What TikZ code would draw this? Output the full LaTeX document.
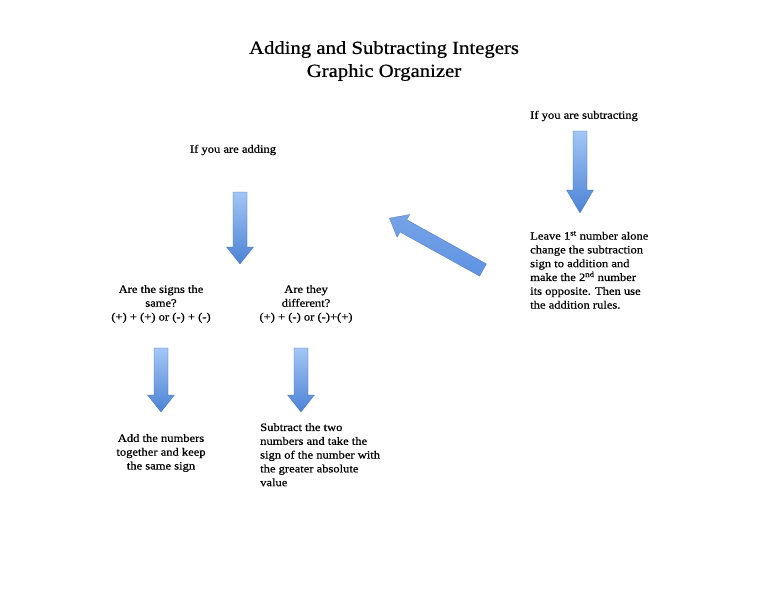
\documentclass[tikz,border=0pt]{standalone}
\usepackage{fontspec}
\setmainfont{Liberation Serif}[FakeStretch=1.12, FakeBold=0.6]
\usetikzlibrary{calc}
\definecolor{arrowlight}{HTML}{A3C6F5}
\definecolor{arrowdark}{HTML}{4C82D6}
\definecolor{arrowmid}{HTML}{5E93E2}
\tikzset{
  body/.style={font=\fontsize{11.2}{13.8}\selectfont, inner sep=0pt, align=center},
  bodyleft/.style={font=\fontsize{11.2}{13.8}\selectfont, inner sep=0pt, align=left, anchor=north west},
  titletext/.style={font=\fontsize{18.5}{23}\selectfont, inner sep=0pt, align=center},
  blockarrow/.style={top color=arrowlight, bottom color=arrowdark, draw=arrowdark!80!black, line width=0.2pt}
}
% #1 = centre x, #2 = top y, #3 = head base y, #4 = tip y
\newcommand\downblock[4]{%
  \path[blockarrow] (#1-7,#2) -- (#1+7,#2) -- (#1+7,#3) -- (#1+13.5,#3) -- (#1,#4)
    -- (#1-13.5,#3) -- (#1-7,#3) -- cycle;}
\begin{document}
\begin{tikzpicture}[x=1pt,y=-1pt]
\useasboundingbox[fill=white] (0,0) rectangle (768,594);

\node[titletext] (title) at (384,61) {Adding and Subtracting Integers\\Graphic Organizer};

\node[body] (adding) at (233,150) {If you are adding};
\node[body, anchor=west] (subtracting) at (530,116) {If you are subtracting};

\downblock{240}{192}{247}{264}
\downblock{580}{131}{190}{213}
\downblock{161}{348}{395}{412}
\downblock{301}{348}{395}{412}

% diagonal arrow
\begin{scope}[shift={(483,270)}, rotate=151]
  \path[top color=arrowmid!85!white, bottom color=arrowmid, draw=arrowdark!80!black, line width=0.2pt]
    (0,-7) -- (91,-7) -- (91,-13) -- (107,0) -- (91,13) -- (91,7) -- (0,7) -- cycle;
\end{scope}

\node[body] (same) at (161,304) {Are the signs the\\same?\\(+) + (+) or (-) + (-)};
\node[body] (different) at (306,304) {Are they\\different?\\(+) + (-) or (-)+(+)};

\node[body] (addres) at (161,453) {Add the numbers\\together and keep\\the same sign};
\node[bodyleft] (subres) at (260,423) {Subtract the two\\numbers and take the\\sign of the number with\\the greater absolute\\value};

\node[bodyleft] (leave) at (530,231) {Leave 1\textsuperscript{st} number alone\\change the subtraction\\sign to addition and\\make the 2\textsuperscript{nd} number\\its opposite. Then use\\the addition rules.};
\end{tikzpicture}
\end{document}
